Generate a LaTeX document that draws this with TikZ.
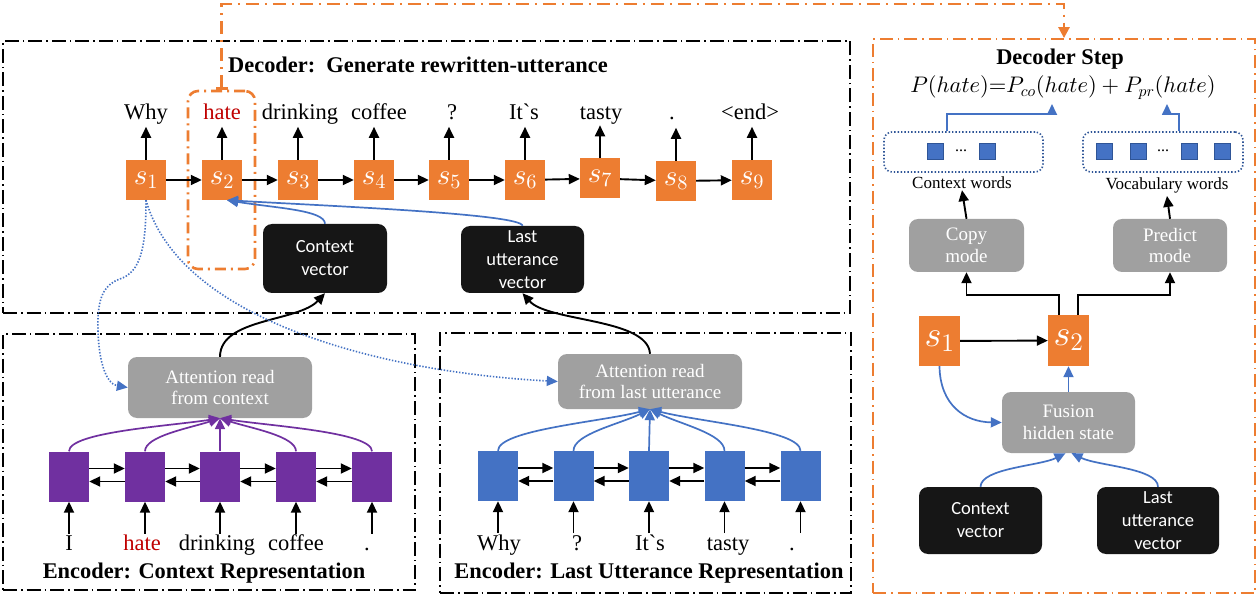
\documentclass[tikz,border=0pt]{standalone}
\usepackage{fontspec}
\setmainfont{Liberation Serif}
\newfontfamily\rawserif{Liberation Serif}[Ligatures=TeXOff]
\newfontfamily\carl{Carlito}
\DeclareFontShape{OML}{cmm}{m}{it}{<->cmmi10}{}
\DeclareFontShape{OMS}{cmsy}{m}{n}{<->cmsy10}{}
\DeclareFontShape{OT1}{cmr}{m}{n}{<->cmr10}{}
\usetikzlibrary{arrows.meta,calc}
\definecolor{dorange}{RGB}{237,125,49}
\definecolor{dblue}{RGB}{68,114,196}
\definecolor{dpurple}{RGB}{112,48,160}
\definecolor{dgray}{RGB}{160,160,160}
\definecolor{dblack}{RGB}{22,22,22}
\definecolor{dred}{RGB}{192,0,0}
\definecolor{dnavy}{RGB}{47,85,151}
\newcommand\fw{\fontsize{22.5}{24}\selectfont}
\begin{document}
\begin{tikzpicture}[x=1pt,y=-1pt,
 >={Triangle[length=11pt,width=10pt]},
 bbord/.style={draw=black, line width=1.4pt, dash pattern=on 14pt off 4pt on 1.5pt off 4pt, inner sep=0pt},
 obord/.style={draw=dorange, line width=1.8pt, dash pattern=on 13pt off 5pt on 1.5pt off 5pt, inner sep=0pt},
 sbox/.style={fill=dorange, minimum width=40pt, minimum height=40pt, inner sep=0pt, text=white, font=\fontsize{29}{29}\selectfont},
 pbox/.style={fill=dpurple, minimum width=40pt, minimum height=50pt, inner sep=0pt},
 ubox/.style={fill=dblue, minimum width=40pt, minimum height=50pt, inner sep=0pt},
 vbox/.style={fill=dblack, rounded corners=9pt, text=white, align=center, inner sep=0pt, font=\carl\fontsize{18.5}{23}\selectfont},
 gbox/.style={fill=dgray, rounded corners=9pt, text=white, align=center, inner sep=0pt, font=\fontsize{19}{21.5}\selectfont},
 wd/.style={font=\fw, anchor=base, inner sep=0pt},
 ttl/.style={font=\bfseries\fontsize{22.4}{24}\selectfont, inner sep=0pt},
 blk/.style={draw=black, line width=1.9pt},
 bl/.style={draw=dblue, line width=1.7pt},
 dotl/.style={draw=dblue, line width=1.6pt, dash pattern=on 1.4pt off 1.7pt},
 sq/.style={fill=dblue, draw=dnavy, line width=0.8pt, minimum width=16pt, minimum height=16pt, inner sep=0pt},
 dbox/.style={draw=dnavy, line width=1.6pt, dash pattern=on 1.4pt off 2pt, rounded corners=8pt, minimum width=159pt, minimum height=40pt, inner sep=0pt}
]
\fill[white] (0,0) rectangle (1259,596);
\useasboundingbox (0,0) rectangle (1259,596);

% ---------- frames ----------
\node[bbord, minimum width=847pt, minimum height=272pt] (decbox) at (426.5,177) {};
\node[bbord, minimum width=412pt, minimum height=256pt] (encc) at (209,462) {};
\node[bbord, minimum width=411pt, minimum height=260pt] (encl) at (645.5,463) {};
\node[obord, minimum width=382pt, minimum height=554pt] (rbox) at (1064,316) {};

% ---------- decoder ----------
\node[ttl, anchor=base west] (dtitle) at (228,73) {Decoder:\ \ Generate rewritten-utterance};
\node[draw=dorange, line width=2.6pt, dash pattern=on 11pt off 5pt on 2pt off 5pt, rounded corners=10pt,
      minimum width=67pt, minimum height=178pt, inner sep=0pt] (hbox) at (221.5,180) {};
\draw[draw=dorange, line width=2.6pt, dash pattern=on 13pt off 6pt on 2pt off 6pt, {Bar[width=12pt]}-{Triangle[length=11pt,width=11pt]}]
  (hbox.north) -- (221.5,4) -| (rbox.north);

\foreach \i/\x/\y in {1/146/180,2/222/180,3/298/180,4/374/180,5/449/180,6/525/180,7/600/178.5,8/676/181,9/752/180}
  \node[sbox] (s\i) at (\x,\y) {$s_{\i}$};
\foreach \i/\j in {1/2,2/3,3/4,4/5,5/6,6/7,7/8,8/9}
  \draw[blk,->] (s\i) -- (s\j);
\foreach \i in {1,...,9}
  \draw[blk,->] (s\i.north) -- ([yshift=33pt]s\i.north);

\node[wd] (o1) at (146,120) {Why};
\node[wd, text=dred] (o2) at (222,120) {hate};
\node[wd] (o3) at (300,120) {drinking};
\node[wd] (o4) at (379,120) {coffee};
\node[wd] (o5) at (452,120) {?};
\node[wd] (o6) at (524,120) {\rawserif It`s};
\node[wd] (o7) at (601,120) {tasty};
\node[wd] (o8) at (672,120) {.};
\node[wd] (o9) at (750,120) {<end>};

\node[vbox, minimum width=124pt, minimum height=69pt] (ctxv) at (325,258.5) {Context\\vector};
\node[vbox, minimum width=123pt, minimum height=67pt] (lutv) at (522.5,259.5) {Last\\utterance\\vector};

\draw[bl,->] (ctxv.north) .. controls (325,210) and (275,208) .. ([xshift=5pt]s2.south);
\draw[bl,->] (lutv.north) .. controls (522,214) and (330,206) .. ([xshift=5pt]s2.south);

% ---------- encoder: context ----------
\node[gbox, minimum width=184pt, minimum height=61pt] (attc) at (220,387.5) {Attention read\\from context};
\foreach \i/\x in {1/69,2/145,3/220,4/296,5/372}
  \node[pbox] (p\i) at (\x,476.5) {};
\foreach \i/\j in {1/2,2/3,3/4,4/5}{
  \draw[blk,->] ([yshift=8pt]p\i.east) -- ([yshift=8pt]p\j.west);
  \draw[blk,->] ([yshift=-5pt]p\j.west) -- ([yshift=-5pt]p\i.east);}
\foreach \i in {1,...,5}
  \draw[blk,->] ([yshift=-32pt]p\i.south) -- (p\i.south);
\draw[draw=dpurple, line width=1.7pt,->] (p1.north) .. controls (69,432) and (170,426) .. (attc.south);
\draw[draw=dpurple, line width=1.7pt,->] (p2.north) .. controls (145,436) and (190,428) .. (attc.south);
\draw[draw=dpurple, line width=1.7pt,->] (p3.north) -- (attc.south);
\draw[draw=dpurple, line width=1.7pt,->] (p4.north) .. controls (296,436) and (250,428) .. (attc.south);
\draw[draw=dpurple, line width=1.7pt,->] (p5.north) .. controls (372,432) and (270,426) .. (attc.south);

\node[wd] (i1) at (69,550) {I};
\node[wd, text=dred] (i2) at (142,550) {hate};
\node[wd] (i3) at (217,550) {drinking};
\node[wd] (i4) at (296,550) {coffee};
\node[wd] (i5) at (367,550) {.};
\node[ttl, anchor=base] (ectitle) at (204,578) {Encoder: Context Representation};

\draw[blk,->] (attc.north) .. controls (220,318) and (298,322) .. (ctxv.south);

% ---------- encoder: last utterance ----------
\node[gbox, minimum width=184pt, minimum height=55pt] (attl) at (650,381.5) {Attention read\\from last utterance};
\foreach \i/\x in {1/498,2/573.5,3/649,4/724.5,5/800.5}
  \node[ubox] (u\i) at (\x,476) {};
\foreach \i/\j in {1/2,2/3,3/4,4/5}{
  \draw[blk,->] ([yshift=8pt]u\i.east) -- ([yshift=8pt]u\j.west);
  \draw[blk,->] ([yshift=-5pt]u\j.west) -- ([yshift=-5pt]u\i.east);}
\foreach \i in {1,...,5}
  \draw[blk,->] ([yshift=-32pt]u\i.south) -- (u\i.south);
\draw[bl,->] (u1.north) .. controls (498,430) and (600,422) .. (attl.south);
\draw[bl,->] (u2.north) .. controls (573.5,434) and (620,424) .. (attl.south);
\draw[bl,->] (u3.north) -- (attl.south);
\draw[bl,->] (u4.north) .. controls (724.5,434) and (680,424) .. (attl.south);
\draw[bl,->] (u5.north) .. controls (800.5,430) and (700,422) .. (attl.south);

\node[wd] (j1) at (499,550) {Why};
\node[wd] (j2) at (577,550) {?};
\node[wd] (j3) at (650,550) {\rawserif It`s};
\node[wd] (j4) at (728,550) {tasty};
\node[wd] (j5) at (792,550) {.};
\node[ttl, anchor=base] (eltitle) at (649,578) {Encoder: Last Utterance Representation};

\draw[blk,->] (attl.north) .. controls (648,318) and (548,322) .. (lutv.south);

% dotted attention links
\draw[dotl,->] (s1.south) .. controls (146,250) and (140,272) .. (120,279)
   .. controls (105,284) and (99,296) .. (98,318)
   .. controls (97,360) and (106,384) .. (attc.west);
\draw[dotl,->] (s1.south) .. controls (180,320) and (380,372) .. (attl.west);

% ---------- right panel ----------
\node[ttl, anchor=base] (dstep) at (1060,65) {Decoder Step};
\node[anchor=base, inner sep=0pt, font=\fontsize{22.5}{24}\selectfont] (form) at (1063,93)
  {$P(hate){=}P_{co}(hate)+P_{pr}(hate)$};
\coordinate (pco) at (1052,104);
\coordinate (ppr) at (1167,104);

\node[dbox] (cwbox) at (963.5,152) {};
\node[dbox, minimum width=160pt] (vwbox) at (1163,152) {};
\node[sq] (c1) at (935,151) {};
\node[sq] (c2) at (987,151) {};
\node[inner sep=0pt, font=\fontsize{16}{16}\selectfont] (cd) at (961,151) {...};
\node[sq] (v1) at (1104,151) {};
\node[sq] (v2) at (1138,151) {};
\node[sq] (v3) at (1189,151) {};
\node[sq] (v4) at (1222,151) {};
\node[inner sep=0pt, font=\fontsize{16}{16}\selectfont] (vd) at (1163,151) {...};
\node[inner sep=1pt, font=\fontsize{17}{18}\selectfont] (cwl) at (962,183) {Context words};
\node[inner sep=1pt, font=\fontsize{17}{18}\selectfont] (vwl) at (1167,185) {Vocabulary words};

\draw[bl,->] ([xshift=-16.5pt]cwbox.north) -- ++(0,-17) -| (pco);
\draw[bl,->] ([xshift=16pt]vwbox.north) -- ++(0,-17) -| (ppr);

\node[gbox, minimum width=115pt, minimum height=53pt] (copy) at (966.5,245.5) {Copy\\mode};
\node[gbox, minimum width=114pt, minimum height=53pt] (pred) at (1170,245.5) {Predict\\mode};
\draw[blk,->] (copy.north) -- (cwl.south);
\draw[blk,->] (pred.north) -- ([yshift=-2pt]vwl.south);

\node[sbox, minimum height=50pt, minimum width=41pt, font=\fontsize{36}{36}\selectfont] (rs1) at (939.5,341) {$s_1$};
\node[sbox, minimum height=51pt, minimum width=41pt, font=\fontsize{36}{36}\selectfont] (rs2) at (1068.5,340.5) {$s_2$};
\draw[blk,->] (rs1) -- (rs2);
\draw[blk,->] ([xshift=-9.5pt]rs2.north) -- ++(0,-20) -| (copy.south);
\draw[blk,->] ([xshift=9.5pt]rs2.north) -- ++(0,-20) -| (pred.south);

\node[gbox, minimum width=133pt, minimum height=61pt] (fus) at (1068.5,422.5) {Fusion\\hidden state};
\draw[bl,->] (fus.north) -- (rs2.south);
\draw[bl,->] (rs1.south) .. controls (940,405) and (965,422) .. (fus.west);

\node[vbox, minimum width=123pt, minimum height=67pt] (rctx) at (980.5,520.5) {Context\\vector};
\node[vbox, minimum width=122pt, minimum height=67pt] (rlut) at (1158,520.5) {Last\\utterance\\vector};
\draw[bl,->] (rctx.north) .. controls (981,468) and (1040,466) .. ([xshift=-3pt]fus.south);
\draw[bl,->] (rlut.north) .. controls (1158,468) and (1098,466) .. ([xshift=3pt]fus.south);
\end{tikzpicture}
\end{document}
